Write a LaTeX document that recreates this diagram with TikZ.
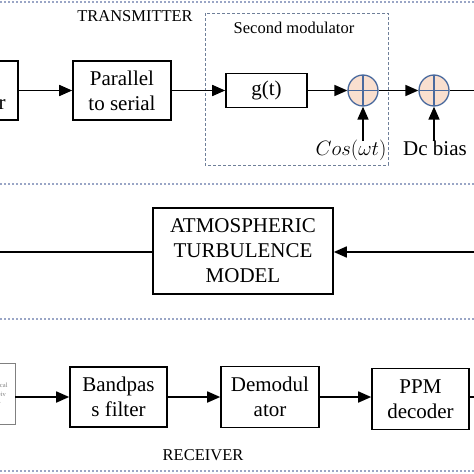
\documentclass[tikz,border=0pt]{standalone}
\usepackage{fontspec}
\setmainfont{Liberation Serif}
\usetikzlibrary{arrows.meta}
\definecolor{sepc}{HTML}{9AA6C6}
\definecolor{sumb}{HTML}{4A6A9E}
\definecolor{sumf}{HTML}{F9DFCF}
\definecolor{modc}{HTML}{6F7F99}
\tikzset{
  blk/.style={draw, line width=1.6pt, align=center, inner sep=0pt,
    font=\fontsize{21}{25}\selectfont},
  arr/.style={line width=1.7pt, -{Triangle[length=13pt,width=11pt]}},
  ln/.style={line width=1.7pt},
  sepline/.style={draw=sepc, line width=1.4pt, dash pattern=on 2pt off 2pt},
  lbl/.style={font=\fontsize{16.5}{19}\selectfont, inner sep=0pt},
  sumc/.style={ellipse, draw=sumb, fill=sumf, line width=1.3pt, minimum width=30pt,
    minimum height=31pt, inner sep=0pt, path picture={
      \draw[sumb, line width=1.3pt]
        (path picture bounding box.north) -- (path picture bounding box.south)
        (path picture bounding box.east) -- (path picture bounding box.west);}},
  tiny/.style={draw=gray, line width=0.8pt, align=center, inner sep=0pt,
    font=\fontsize{6.5}{9}\selectfont, text=gray}
}
\usetikzlibrary{shapes.geometric}
\begin{document}
\begin{tikzpicture}[x=1pt,y=-1pt]
\useasboundingbox (0,0) rectangle (474,474);
\clip (0,0) rectangle (474,474);
\fill[white] (0,0) rectangle (474,474);
% separators
\coordinate (s1a) at (0,2);   \coordinate (s1b) at (474,2);
\coordinate (s2a) at (0,184); \coordinate (s2b) at (474,184);
\coordinate (s3a) at (0,319); \coordinate (s3b) at (474,319);
\coordinate (s4a) at (0,471); \coordinate (s4b) at (474,471);
\draw[sepline] (s1a) -- (s1b);
\draw[sepline] (s2a) -- (s2b);
\draw[sepline] (s3a) -- (s3b);
\draw[sepline] (s4a) -- (s4b);
% transmitter
\node[lbl] (tx) at (135,16) {TRANSMITTER};
\draw[modc, line width=0.9pt, dash pattern=on 3pt off 2pt] (205,13) rectangle (388,165);
\node[lbl] (sm) at (294,28) {Second modulator};
\node[blk, minimum width=91pt, minimum height=59pt] (enc) at (-27.5,90.5) {PPM\\encoder};
\node[blk, minimum width=98pt, minimum height=59pt] (par) at (122,90.5) {Parallel\\to serial};
\node[blk, minimum width=81pt, minimum height=34pt] (g) at (266.5,90.5) {g(t)};
\node[sumc] (c1) at (363,90.5) {};
\node[sumc] (c2) at (434,90.5) {};
\coordinate (txout) at (474,90.5);
\draw[arr] (enc.east) -- (par.west);
\draw[arr] (par.east) -- (g.west);
\draw[arr] (g.east) -- (c1.west);
\draw[arr] (c1.east) -- (c2.west);
\draw[ln] (c2.east) -- (txout);
\coordinate (cosin) at (363,141);
\coordinate (dcin) at (434,141);
\draw[arr] (cosin) -- (c1.south);
\draw[arr] (dcin) -- (c2.south);
\node[font=\fontsize{22}{25}\selectfont, inner sep=0pt] (cos) at (351,150) {$Cos(\omega t)$};
\node[font=\fontsize{21}{25}\selectfont, inner sep=0pt] (dc) at (435,148) {Dc bias};
% channel
\node[blk, minimum width=180pt, minimum height=86pt] (atm) at (243,251)
  {ATMOSPHERIC\\TURBULENCE\\MODEL};
\coordinate (chin) at (474,252);
\coordinate (chout) at (0,252);
\draw[arr] (chin) -- (chin -| atm.east);
\draw[ln] (chout -| atm.west) -- (chout);
% receiver
\node[tiny, minimum width=34pt, minimum height=61pt] (opt) at (-2,394) {Optical\\receiv\\er};
\node[blk, minimum width=97pt, minimum height=60pt] (bp) at (118.5,397) {Bandpas\\s filter};
\node[blk, minimum width=98pt, minimum height=61pt] (dem) at (270,397) {Demodul\\ator};
\node[blk, minimum width=97pt, minimum height=61pt] (ppm) at (420.5,399) {PPM\\decoder};
\coordinate (rxout) at (474,397);
\draw[arr] (opt.east |- bp.west) -- (bp.west);
\draw[arr] (bp.east) -- (dem.west);
\draw[arr] (dem.east) -- (dem.east -| ppm.west);
\draw[ln] (ppm.east |- rxout) -- (rxout);
\node[lbl] (rx) at (203,455) {RECEIVER};
\end{tikzpicture}
\end{document}
